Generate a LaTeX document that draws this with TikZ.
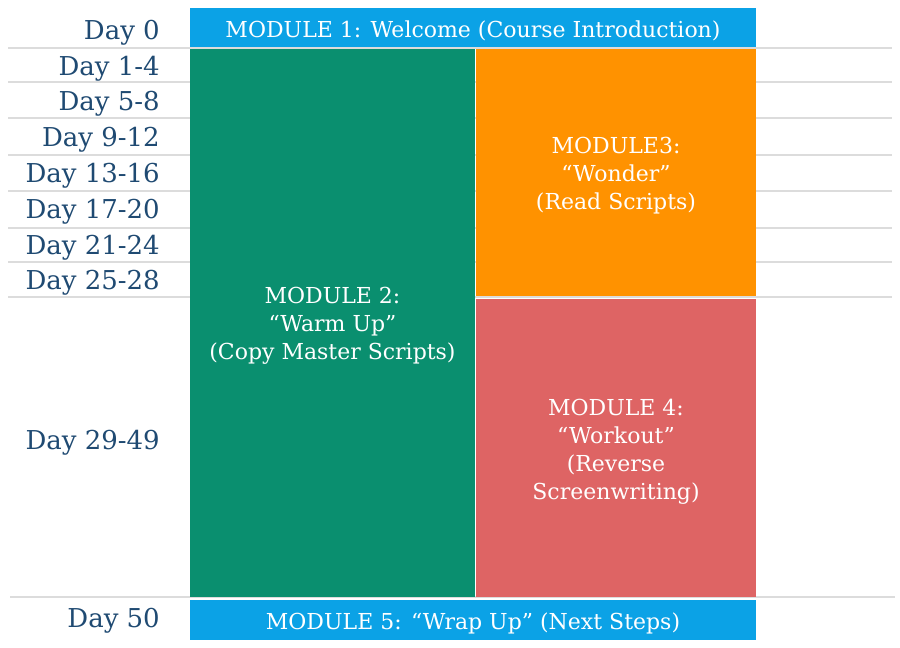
\documentclass[tikz,border=0pt]{standalone}
\usepackage{fontspec}
\setmainfont{DejaVu Serif}
\definecolor{dayblue}{HTML}{1F4A72}
\definecolor{modblue}{HTML}{0BA2E6}
\definecolor{modgreen}{HTML}{0A8F6F}
\definecolor{modorange}{HTML}{FF9200}
\definecolor{modred}{HTML}{DE6464}
\definecolor{rulegray}{HTML}{DCDCDC}
\begin{document}
\begin{tikzpicture}[x=1pt,y=-1pt,
  daylabel/.style={anchor=base east, text=dayblue, font=\fontsize{26}{30}\selectfont, inner sep=0pt},
  modbox/.style={draw=none, inner sep=0pt},
  modtext/.style={text=white, align=center, inner sep=0pt, yshift=-3.5pt, font=\fontsize{22}{28}\selectfont},
  rule/.style={draw=rulegray, line width=2pt}]
\useasboundingbox (0,0) rectangle (900,648);
% horizontal rules
\foreach \yy in {48,82,118,155,191,228,262,297}{
  \draw[rule] (8,\yy) -- (892,\yy);
}
\draw[rule] (10,597) -- (895,597);
% module boxes
\node[modbox, fill=modblue, minimum width=566pt, minimum height=39pt,
  label={[modtext]center:MODULE 1: Welcome (Course Introduction)}] (m1) at (473,27.5) {};
\node[modbox, fill=modgreen, minimum width=285pt, minimum height=548pt,
  label={[modtext]center:{MODULE 2:\\“Warm Up”\\(Copy Master Scripts)}}] (m2) at (332.5,322.5) {};
\node[modbox, fill=modorange, minimum width=280pt, minimum height=247pt,
  label={[modtext]center:{MODULE3:\\“Wonder”\\(Read Scripts)}}] (m3) at (616,172) {};
\node[modbox, fill=modred, minimum width=280pt, minimum height=298pt,
  label={[modtext]center:{MODULE 4:\\“Workout”\\(Reverse\\Screenwriting)}}] (m4) at (616,448) {};
\node[modbox, fill=modblue, minimum width=566pt, minimum height=40pt,
  label={[modtext]center:MODULE 5: “Wrap Up” (Next Steps)}] (m5) at (473,620) {};
% day labels
\node[daylabel] (d0) at (160,39.5) {Day 0};
\node[daylabel] (d1) at (160,75) {Day 1-4};
\node[daylabel] (d2) at (160,110) {Day 5-8};
\node[daylabel] (d3) at (160,146) {Day 9-12};
\node[daylabel] (d4) at (160,182) {Day 13-16};
\node[daylabel] (d5) at (160,218) {Day 17-20};
\node[daylabel] (d6) at (160,254) {Day 21-24};
\node[daylabel] (d7) at (160,289) {Day 25-28};
\node[daylabel] (d8) at (160,449) {Day 29-49};
\node[daylabel] (d9) at (160,627) {Day 50};
\end{tikzpicture}
\end{document}
